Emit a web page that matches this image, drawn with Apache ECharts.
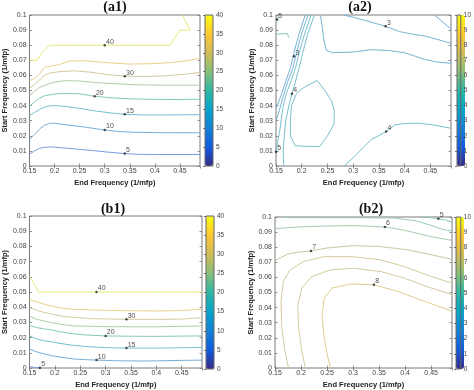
<!DOCTYPE html>
<html><head><meta charset="utf-8">
<script src="https://cdn.jsdelivr.net/npm/echarts@6/dist/echarts.min.js"></script>
<style>html,body{margin:0;padding:0;background:#fff}#c{width:474px;height:390px}</style>
</head><body><div id="c"></div>
<script>
// ---------- DATA ----------
const X_MIN = 0.15, X_MAX = 0.49, X_STEP = 0.05;
const Y_MIN = 0, Y_MAX = 0.1, Y_STEP = 0.01;
const PANEL_TITLES = ['(a1)', '(a2)', '(b1)', '(b2)'];
const CBAR_MAX = [40, 10, 40, 10];
const CBAR_STEP = [5, 1, 5, 1];
const X_NAME = 'End Frequency (1/mfp)';
const Y_NAME = 'Start Frequency (1/mfp)';

// (a1) contours
const A1_LEVELS = [5, 10, 15, 20, 25, 30, 35, 40];
const A1_C05 = [[0.15,0.0078],[0.16,0.0100],[0.17,0.0117],[0.18,0.0124],[0.19,0.0126],[0.2,0.0125],[0.22,0.0119],[0.25,0.011],[0.28,0.0101],[0.3,0.0094],[0.34,0.0082],[0.37,0.0077],[0.42,0.0076],[0.49,0.0076]];
const A1_C10 = [[0.15,0.0175],[0.16,0.021],[0.17,0.0245],[0.18,0.027],[0.19,0.0282],[0.2,0.0283],[0.21,0.0278],[0.23,0.027],[0.26,0.0258],[0.3,0.0238],[0.33,0.0228],[0.36,0.0223],[0.4,0.0221],[0.49,0.022]];
const A1_C15 = [[0.15,0.0335],[0.16,0.0355],[0.17,0.0375],[0.18,0.039],[0.19,0.0398],[0.2,0.04],[0.22,0.0395],[0.25,0.0382],[0.28,0.0365],[0.31,0.0352],[0.34,0.0342],[0.38,0.0338],[0.42,0.0338],[0.49,0.034]];
const A1_C20 = [[0.15,0.0395],[0.16,0.0425],[0.17,0.045],[0.18,0.0465],[0.2,0.0477],[0.22,0.048],[0.25,0.0478],[0.28,0.0462],[0.31,0.0452],[0.35,0.0445],[0.4,0.0441],[0.45,0.044],[0.49,0.0442]];
const A1_C25 = [[0.15,0.0465],[0.16,0.0495],[0.17,0.052],[0.18,0.0535],[0.2,0.0555],[0.22,0.0565],[0.25,0.0563],[0.28,0.0553],[0.32,0.0545],[0.36,0.0538],[0.42,0.0535],[0.49,0.0535]];
const A1_C30 = [[0.15,0.0515],[0.16,0.054],[0.17,0.057],[0.18,0.06],[0.19,0.0615],[0.21,0.0625],[0.24,0.063],[0.27,0.0622],[0.3,0.0607],[0.34,0.0595],[0.38,0.0593],[0.42,0.0597],[0.46,0.0608],[0.49,0.062]];
const A1_C35 = [[0.15,0.0565],[0.16,0.058],[0.17,0.061],[0.18,0.0655],[0.19,0.066],[0.21,0.0672],[0.23,0.0695],[0.26,0.0697],[0.3,0.0685],[0.35,0.0675],[0.4,0.0678],[0.44,0.0688],[0.47,0.07],[0.49,0.0715]];
const A1_C40 = [[0.15,0.07],[0.165,0.07],[0.175,0.075],[0.19,0.08],[0.25,0.08],[0.3,0.08],[0.35,0.08],[0.43,0.08],[0.45,0.09],[0.47,0.09],[0.455,0.1]];
const A1_LABELS = [[0.34,0.0082,5],[0.3,0.0238,10],[0.34,0.0342,15],[0.28,0.0462,20],[0.34,0.0595,30],[0.3,0.08,40]];

// (a2) contours
const A2_LEVELS = [2, 3, 3, 4, 4, 3, 3, 4, 4, 5, 5];
const A2_TR = [[0.458,0.1],[0.475,0.095],[0.49,0.0907]];
const A2_TOP3 = [[0.28,0.1],[0.3,0.0985],[0.322,0.0965],[0.363,0.0925],[0.39,0.089],[0.413,0.0875],[0.44,0.086],[0.466,0.0836],[0.49,0.0812]];
const A2_MID = [[0.2365,0.1],[0.24,0.0915],[0.243,0.0835],[0.248,0.0765],[0.26,0.075],[0.3,0.0755],[0.335,0.077],[0.37,0.0765],[0.4,0.075],[0.44,0.0705],[0.46,0.069],[0.49,0.068]];
const A2_BOT4 = [[0.2824,0],[0.3,0.0055],[0.32,0.0125],[0.335,0.0175],[0.352,0.0205],[0.364,0.0228],[0.381,0.0272],[0.4,0.0282],[0.43,0.0283],[0.455,0.0272],[0.49,0.025]];
const A2_LOOP = [[0.23,0.0566],[0.245,0.05],[0.258,0.043],[0.263,0.037],[0.263,0.028],[0.25,0.02],[0.235,0.013],[0.21,0.013],[0.187,0.0135],[0.178,0.02],[0.178,0.03],[0.18,0.04],[0.19,0.048],[0.204,0.052],[0.23,0.0566]];
const A2_B1 = [[0.207,0.1],[0.195,0.088],[0.185,0.075],[0.178,0.065],[0.168,0.055],[0.158,0.045],[0.15,0.038]];
const A2_B2 = [[0.2123,0.1],[0.2,0.088],[0.19,0.075],[0.183,0.065],[0.172,0.055],[0.163,0.045],[0.155,0.035],[0.15,0.03]];
const A2_B3 = [[0.2182,0.1],[0.206,0.088],[0.195,0.075],[0.188,0.065],[0.178,0.055],[0.17,0.048],[0.163,0.038],[0.158,0.025],[0.153,0.015],[0.15,0.01]];
const A2_B4 = [[0.2247,0.1],[0.212,0.088],[0.202,0.075],[0.195,0.065],[0.187,0.055],[0.181,0.048],[0.175,0.04],[0.169,0.03],[0.166,0.02],[0.164,0.01],[0.165,0]];
const A2_TL = [[0.15,0.0873],[0.172,0.0877],[0.175,0.085]];
const A2_CORNER = [[0.15,0.0955],[0.156,0.1]];
const A2_LABELS = [[0.363,0.0925,3],[0.185,0.0726,3],[0.181,0.0478,4],[0.364,0.0228,4],[0.152,0.097,5],[0.15,0.0095,5]];

// (b1) contours
const B1_LEVELS = [5, 10, 15, 20, 25, 30, 35, 40];
const B1_C05 = [[0.15,0.0009],[0.16,0.0004],[0.171,0]];
const B1_C10 = [[0.15,0.0124],[0.165,0.0105],[0.18,0.0092],[0.194,0.0081],[0.21,0.0072],[0.238,0.0059],[0.26,0.0055],[0.282,0.0052],[0.32,0.0048],[0.366,0.0046],[0.4,0.0047],[0.45,0.005],[0.49,0.0052]];
const B1_C15 = [[0.15,0.0211],[0.165,0.019],[0.18,0.0178],[0.194,0.0172],[0.21,0.0162],[0.23,0.0152],[0.258,0.0142],[0.3,0.0134],[0.341,0.0131],[0.4,0.0131],[0.45,0.0133],[0.49,0.0135]];
const B1_C20 = [[0.15,0.0281],[0.165,0.0265],[0.18,0.0257],[0.194,0.025],[0.21,0.0238],[0.23,0.0228],[0.258,0.0218],[0.3,0.0211],[0.35,0.0209],[0.4,0.0208],[0.45,0.021],[0.49,0.0211]];
const B1_C25 = [[0.15,0.0342],[0.165,0.032],[0.18,0.0308],[0.194,0.0298],[0.21,0.0288],[0.238,0.0277],[0.3,0.0272],[0.35,0.0271],[0.4,0.0271],[0.45,0.0274],[0.49,0.0277]];
const B1_C30 = [[0.15,0.0397],[0.165,0.0378],[0.181,0.0364],[0.2,0.035],[0.219,0.0338],[0.25,0.033],[0.27,0.0325],[0.341,0.032],[0.4,0.032],[0.45,0.0322],[0.49,0.0331]];
const B1_C35 = [[0.15,0.0451],[0.165,0.0435],[0.181,0.0418],[0.206,0.0397],[0.238,0.0386],[0.3,0.0379],[0.4,0.0375],[0.45,0.0378],[0.49,0.0386]];
const B1_C40 = [[0.15,0.06],[0.16,0.055],[0.168,0.05],[0.2,0.05],[0.3,0.05],[0.4,0.05],[0.49,0.05]];
const B1_LABELS = [[0.1705,0.0002,5],[0.282,0.0052,10],[0.341,0.0131,15],[0.3,0.0211,20],[0.341,0.032,30],[0.282,0.05,40]];

// (b2) contours
const B2_LEVELS = [5, 5.5, 6, 7, 7.5, 7.5, 8];
const B2_C05 = [[0.43,0.1],[0.45,0.0995],[0.464,0.0989],[0.478,0.098],[0.49,0.0965]];
const B2_C055 = [[0.166,0.1],[0.18,0.0996],[0.25,0.0995],[0.32,0.0995],[0.38,0.0993],[0.42,0.0975],[0.45,0.0945],[0.47,0.092],[0.49,0.0905]];
const B2_C06 = [[0.15,0.0923],[0.17,0.0928],[0.2,0.0935],[0.25,0.094],[0.3,0.0943],[0.361,0.0934],[0.39,0.0918],[0.42,0.0895],[0.45,0.087],[0.49,0.0845]];
const B2_C07 = [[0.15,0.071],[0.16,0.073],[0.175,0.0755],[0.195,0.0768],[0.219,0.0775],[0.25,0.0795],[0.3,0.081],[0.35,0.0805],[0.4,0.0785],[0.45,0.075],[0.49,0.072]];
const B2_C075A = [[0.176,0],[0.169,0.0114],[0.163,0.0267],[0.1616,0.0442],[0.166,0.0573],[0.179,0.065],[0.205,0.0705],[0.2435,0.0737],[0.3,0.0737],[0.353,0.0716],[0.398,0.0672],[0.45,0.0606],[0.49,0.0562]];
const B2_C075B = [[0.208,0],[0.2016,0.0114],[0.1952,0.0267],[0.1939,0.042],[0.2016,0.053],[0.221,0.0606],[0.2565,0.065],[0.3016,0.066],[0.3532,0.0639],[0.3984,0.0595],[0.45,0.053],[0.49,0.0486]];
const B2_C08 = [[0.2565,0],[0.25,0.0092],[0.2435,0.0223],[0.2403,0.0354],[0.2448,0.0464],[0.2597,0.053],[0.2952,0.0556],[0.3403,0.0551],[0.3855,0.0508],[0.4371,0.0442],[0.49,0.0376]];
const B2_LABELS = [[0.464,0.0989,5],[0.361,0.0934,6],[0.219,0.0775,7],[0.34,0.0551,8]];

const PANEL_LINES = [
  [A1_C05, A1_C10, A1_C15, A1_C20, A1_C25, A1_C30, A1_C35, A1_C40],
  [A2_TR, A2_TOP3, A2_MID, A2_BOT4, A2_LOOP, A2_B1, A2_B2, A2_B3, A2_B4, A2_TL, A2_CORNER],
  [B1_C05, B1_C10, B1_C15, B1_C20, B1_C25, B1_C30, B1_C35, B1_C40],
  [B2_C05, B2_C055, B2_C06, B2_C07, B2_C075A, B2_C075B, B2_C08]
];
const PANEL_LEVELS = [A1_LEVELS, A2_LEVELS, B1_LEVELS, B2_LEVELS];
const PANEL_LABELS = [A1_LABELS, A2_LABELS, B1_LABELS, B2_LABELS];

// ---------- LAYOUT / STYLE ----------
const LAYOUT = [
  { grid: {left: 26, top: 15, width: 174, height: 151}, bar: {left: 205, top: 15, width: 8, height: 151}, tx: 115, ty: 0 },
  { grid: {left: 276, top: 15, width: 175, height: 151}, bar: {left: 457, top: 15, width: 8, height: 151}, tx: 360, ty: 0 },
  { grid: {left: 24, top: 216, width: 178, height: 153}, bar: {left: 206, top: 216, width: 8, height: 153}, tx: 113, ty: 202 },
  { grid: {left: 275, top: 217, width: 177, height: 152}, bar: {left: 456, top: 217, width: 8, height: 152}, tx: 371, ty: 202 }
];
const PARULA = ['#352a87','#0f5cdd','#1481d6','#06a4ca','#2eb7a4','#87bf77','#d1bb59','#fec832','#f9fb0e'];
const FONT = 'Liberation Sans, Arial, sans-serif';

function hex2rgb(h){ return [parseInt(h.slice(1,3),16), parseInt(h.slice(3,5),16), parseInt(h.slice(5,7),16)]; }
function parula(t){
  t = Math.max(0, Math.min(1, t));
  const s = t * (PARULA.length - 1), i = Math.min(PARULA.length - 2, Math.floor(s)), f = s - i;
  const a = hex2rgb(PARULA[i]), b = hex2rgb(PARULA[i+1]);
  return [0,1,2].map(k => a[k] + (b[k]-a[k]) * f);
}
function lineColor(level, max){
  const c = parula(level / max), w = 0.52, grey = 215;
  const m = c.map(v => Math.round(v + (grey - v) * w));
  return 'rgb(' + m.join(',') + ')';
}
const fmt2 = v => String(Math.round(v * 100) / 100);

const option = { animation: false, backgroundColor: '#fff', title: [], grid: [], xAxis: [], yAxis: [], series: [], visualMap: [] };

LAYOUT.forEach((L, p) => {
  const g = option.grid.length;
  option.grid.push(Object.assign({ show: true, borderColor: '#7a7a7a', borderWidth: 1, backgroundColor: '#fff', containLabel: false }, L.grid));
  option.grid.push(Object.assign({ show: true, borderColor: '#666', borderWidth: 1, backgroundColor: 'transparent', z: 10 }, L.bar));
  const xi = option.xAxis.length, yi = option.yAxis.length;
  const tickStyle = { show: true, inside: true, length: 2.5, lineStyle: { color: '#777', width: 0.8 } };
  option.xAxis.push({ type: 'value', gridIndex: g, min: X_MIN, max: X_MAX, interval: X_STEP, position: 'bottom',
    axisLine: { show: false }, axisTick: tickStyle, splitLine: { show: false },
    axisLabel: { fontSize: 7, color: '#444', fontFamily: FONT, margin: 2, showMaxLabel: false, formatter: fmt2 },
    name: X_NAME, nameLocation: 'middle', nameGap: 13,
    nameTextStyle: { fontSize: 7.5, fontWeight: 'bold', color: '#222', fontFamily: FONT } });
  option.xAxis.push({ type: 'value', gridIndex: g, min: X_MIN, max: X_MAX, interval: X_STEP, position: 'top',
    axisLine: { show: false }, axisTick: tickStyle, splitLine: { show: false }, axisLabel: { show: false } });
  option.yAxis.push({ type: 'value', gridIndex: g, min: Y_MIN, max: Y_MAX, interval: Y_STEP, position: 'left',
    axisLine: { show: false }, axisTick: tickStyle, splitLine: { show: false },
    axisLabel: { fontSize: 7, color: '#444', fontFamily: FONT, margin: 3, formatter: v => String(Math.round(v * 1000) / 1000) },
    name: Y_NAME, nameLocation: 'middle', nameGap: 16,
    nameTextStyle: { fontSize: 7.5, fontWeight: 'bold', color: '#222', fontFamily: FONT } });
  option.yAxis.push({ type: 'value', gridIndex: g, min: Y_MIN, max: Y_MAX, interval: Y_STEP, position: 'right',
    axisLine: { show: false }, axisTick: tickStyle, splitLine: { show: false }, axisLabel: { show: false } });
  // colorbar axes
  option.xAxis.push({ type: 'value', gridIndex: g + 1, show: false, min: 0, max: 1 });
  option.yAxis.push({ type: 'value', gridIndex: g + 1, min: 0, max: CBAR_MAX[p], interval: CBAR_STEP[p], position: 'right', z: 10,
    axisLine: { show: false }, axisTick: { show: true, inside: true, length: 2, lineStyle: { color: '#555', width: 0.8 } },
    splitLine: { show: false }, axisLabel: { fontSize: 6.5, color: '#444', fontFamily: FONT, margin: 3 } });

  option.visualMap.push({ type: 'continuous', min: 0, max: CBAR_MAX[p], seriesIndex: [], calculable: false, hoverLink: false,
    left: L.bar.left, top: L.bar.top, itemWidth: L.bar.width, itemHeight: L.bar.height, padding: 0, text: null,
    inRange: { color: PARULA }, textStyle: { fontSize: 0 } });

  option.title.push({ text: PANEL_TITLES[p], left: L.tx, top: L.ty, textAlign: 'center', padding: 0,
    textStyle: { fontFamily: 'Liberation Serif, Times New Roman, serif', fontWeight: 'bold', fontSize: 14, color: '#111' } });

  PANEL_LINES[p].forEach((pts, k) => {
    option.series.push({ type: 'line', xAxisIndex: xi, yAxisIndex: yi, data: pts, symbol: 'none', silent: true,
      lineStyle: { color: lineColor(PANEL_LEVELS[p][k], CBAR_MAX[p]), width: 1 }, z: 2 });
  });
  option.series.push({ type: 'scatter', xAxisIndex: xi, yAxisIndex: yi, data: PANEL_LABELS[p], symbolSize: 2.5, silent: true, z: 5,
    itemStyle: { color: '#222' },
    label: { show: true, position: 'right', distance: 0, offset: [0, -3.5], formatter: q => q.value[2], fontSize: 7, color: '#222', fontFamily: FONT } });
});

const chart = echarts.init(document.getElementById('c'), null, { renderer: 'canvas' });
chart.setOption(option);
</script></body></html>
